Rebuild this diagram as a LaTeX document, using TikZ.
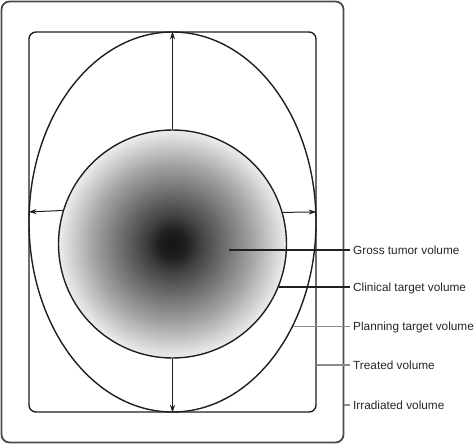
\documentclass[tikz,border=0pt]{standalone}
\usepackage{fontspec}
\setmainfont{Liberation Sans}
\usetikzlibrary{shapes.geometric,arrows.meta}
\pgfdeclareradialshading{tumorshade}{\pgfpoint{0bp}{0bp}}{color(0bp)=(black!92); color(3bp)=(black!88); color(6bp)=(black!75); color(11bp)=(black!58); color(17.5bp)=(black!36); color(25bp)=(black!7); color(50bp)=(black!7)}

\begin{document}
\begin{tikzpicture}[x=1pt, y=-1pt,
    volume/.style={draw, inner sep=0pt, line width=1.4pt, draw=black!88},
    lbl/.style={anchor=west, inner sep=3pt, font=\fontsize{11.8}{13}\selectfont, text=black!85},
    arr/.style={-{Stealth[length=8pt,width=5pt]}, line width=1pt, black!88},
    lead/.style={line width=1.1pt, black!88},
    lightlead/.style={line width=1.1pt, black!45}]
    \useasboundingbox (0,0) rectangle (474,445);
    \node[volume, rectangle, rounded corners=8pt, line width=1.8pt, draw=black!70,
        minimum width=342pt, minimum height=441pt] (iv) at (172.5,222) {};
    \node[volume, rectangle, rounded corners=7pt, minimum width=287pt, minimum height=380pt] (tv) at (172.5,222) {};
    \node[volume, ellipse, minimum width=287pt, minimum height=380pt] (ptv) at (172.5,222) {};
    \node[volume, circle, shading=tumorshade, shade, minimum size=228pt] (ctv) at (172.5,244) {};
    \coordinate (gtvpt) at (229,250);

    \draw[arr] (ctv.north) -- (ptv.north);
    \draw[arr] (ctv.south) -- (ptv.south);
    \draw[arr] (ctv.163.7) -- (ptv.176);
    \draw[arr] (ctv.16.3) -- (ptv.4);

    \node[lbl] (gtv) at (350,250) {Gross tumor volume};
    \node[lbl] (ctvlbl) at (350,288) {Clinical target volume};
    \node[lbl] (ptvlbl) at (350,327) {Planning target volume};
    \node[lbl] (tvlbl) at (350,365) {Treated volume};
    \node[lbl] (ivlbl) at (350,405) {Irradiated volume};

    \draw[lead] (gtvpt) -- (gtv.west);
    \draw[lead] (ctv.-22.7) -- (ctv.-22.7 -| ctvlbl.west);
    \draw[lightlead] (ptv.-41.3) -- (ptv.-41.3 -| ptvlbl.west);
    \draw[lightlead] (tv.east |- tvlbl.west) -- (tvlbl.west);
    \draw[lightlead] (iv.east |- ivlbl.west) -- (ivlbl.west);
\end{tikzpicture}
\end{document}
